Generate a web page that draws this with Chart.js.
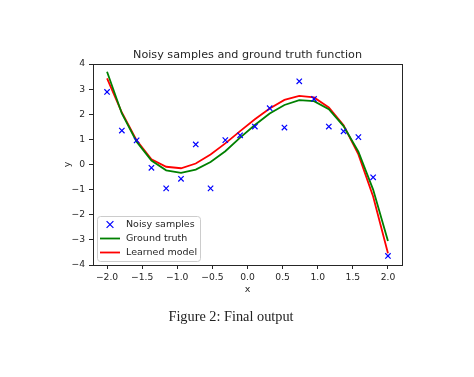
<!DOCTYPE html>
<html>
<head>
<meta charset="utf-8">
<script src="https://cdn.jsdelivr.net/npm/chart.js@4.4.1/dist/chart.umd.min.js"></script>
<style>
  html, body { margin: 0; padding: 0; background: #fff; }
  #wrap { position: relative; width: 474px; height: 377px; }
  #caption {
    position: absolute; left: -6px; top: 308px; width: 474px;
    text-align: center; color: #222;
    font-family: "Liberation Serif", "DejaVu Serif", serif; font-size: 14.3px;
  }
</style>
</head>
<body>
<div id="wrap">
  <canvas id="chart" width="474" height="377"></canvas>
  <div id="caption">Figure 2: Final output</div>
</div>
<script>
// Daten
var xValues = [-2.0, -1.789, -1.579, -1.368, -1.158, -0.947, -0.737, -0.526, -0.316, -0.105,
               0.105, 0.316, 0.526, 0.737, 0.947, 1.158, 1.368, 1.579, 1.789, 2.0];
var noisySamples = [2.89, 1.35, 0.96, -0.13, -0.95, -0.57, 0.80, -0.95, 0.97, 1.16,
                    1.51, 2.24, 1.47, 3.31, 2.61, 1.51, 1.32, 1.09, -0.51, -3.64];
var groundTruth = [3.69, 2.03, 0.91, 0.16, -0.23, -0.33, -0.20, 0.10, 0.53, 1.07,
                   1.57, 2.03, 2.37, 2.56, 2.52, 2.20, 1.53, 0.51, -1.00, -3.04];
var learnedModel = [3.43, 2.07, 0.96, 0.21, -0.09, -0.15, 0.04, 0.40, 0.84, 1.33,
                    1.80, 2.23, 2.57, 2.73, 2.67, 2.27, 1.56, 0.40, -1.27, -3.53];
var xTicks = [-2.0, -1.5, -1.0, -0.5, 0.0, 0.5, 1.0, 1.5, 2.0];
var yTicks = [-4, -3, -2, -1, 0, 1, 2, 3, 4];
var chartTitle = 'Noisy samples and ground truth function';

function toPoints(ys) {
    return xValues.map(function (x, i) { return { x: x, y: ys[i] }; });
}

function fmt(v, digits) {
    var s = Math.abs(v).toFixed(digits);
    return v < 0 ? '\u2212' + s : s;
}

var FONT = 'DejaVu Sans';
var INK = '#262626';

// Titel, Rahmen um die Zeichenfläche + Legende im Diagramm
var frameAndLegend = {
    id: 'frameAndLegend',
    afterDraw: function (chart) {
        var ctx = chart.ctx;
        var a = chart.chartArea;
        ctx.save();
        ctx.strokeStyle = INK;
        ctx.lineWidth = 1;
        ctx.strokeRect(Math.round(a.left) + 0.5, Math.round(a.top) + 0.5,
                       Math.round(a.right - a.left), Math.round(a.bottom - a.top));

        // Titel über der Zeichenfläche zentriert
        ctx.fillStyle = INK;
        ctx.font = '11.2px "' + FONT + '"';
        ctx.textAlign = 'center';
        ctx.textBaseline = 'middle';
        ctx.fillText(chartTitle, (a.left + a.right) / 2, a.top - 9);

        // Legende
        var bx = a.left + 4, by = a.bottom - 49, bw = 103, bh = 45;
        ctx.fillStyle = 'rgba(255,255,255,0.8)';
        ctx.strokeStyle = '#cccccc';
        ctx.beginPath();
        ctx.roundRect(bx + 0.5, by + 0.5, bw, bh, 3);
        ctx.fill();
        ctx.stroke();

        ctx.font = '9.5px "' + FONT + '"';
        ctx.textAlign = 'left';
        chart.data.datasets.forEach(function (ds, i) {
            var cy = by + 8.5 + i * 14;
            if (ds.showLine === false) {
                var cx = bx + 13, r = 3.4;
                ctx.strokeStyle = ds.borderColor;
                ctx.lineWidth = 1.2;
                ctx.beginPath();
                ctx.moveTo(cx - r, cy - r); ctx.lineTo(cx + r, cy + r);
                ctx.moveTo(cx - r, cy + r); ctx.lineTo(cx + r, cy - r);
                ctx.stroke();
            } else {
                ctx.strokeStyle = ds.borderColor;
                ctx.lineWidth = ds.borderWidth;
                ctx.beginPath();
                ctx.moveTo(bx + 3, cy); ctx.lineTo(bx + 23, cy);
                ctx.stroke();
            }
            ctx.fillStyle = INK;
            ctx.fillText(ds.label, bx + 29, cy);
        });
        ctx.restore();
    }
};

var ctx = document.getElementById('chart').getContext('2d');
new Chart(ctx, {
    type: 'scatter',
    data: {
        datasets: [
            {
                label: 'Noisy samples',
                data: toPoints(noisySamples),
                showLine: false,
                pointStyle: 'crossRot',
                pointRadius: 3.8,
                pointHoverRadius: 3.8,
                borderColor: '#0000ff',
                backgroundColor: '#0000ff',
                borderWidth: 1.2
            },
            {
                label: 'Ground truth',
                data: toPoints(groundTruth),
                showLine: true,
                pointRadius: 0,
                borderColor: '#008000',
                borderWidth: 1.8,
                tension: 0
            },
            {
                label: 'Learned model',
                data: toPoints(learnedModel),
                showLine: true,
                pointRadius: 0,
                borderColor: '#ff0000',
                borderWidth: 1.8,
                tension: 0
            }
        ]
    },
    options: {
        responsive: false,
        animation: false,
        layout: { padding: { top: 64, left: 62, right: 72, bottom: 82 } },
        plugins: {
            legend: { display: false },
            tooltip: { enabled: false },
            title: { display: false }
        },
        scales: {
            x: {
                type: 'linear',
                min: -2.2,
                max: 2.2,
                afterBuildTicks: function (s) { s.ticks = xTicks.map(function (v) { return { value: v }; }); },
                afterFit: function (s) { s.height = 30; },
                grid: { drawOnChartArea: false, drawTicks: true, tickLength: 4, color: INK },
                border: { display: false },
                ticks: {
                    color: INK, padding: 3, maxRotation: 0,
                    font: { family: FONT, size: 9.2 },
                    callback: function (v) { return fmt(v, 1); }
                },
                title: { display: true, text: 'x', color: INK, padding: 0, font: { family: FONT, size: 9.5 } }
            },
            y: {
                type: 'linear',
                min: -4,
                max: 4,
                afterBuildTicks: function (s) { s.ticks = yTicks.map(function (v) { return { value: v }; }); },
                afterFit: function (s) { s.width = 31; },
                grid: { drawOnChartArea: false, drawTicks: true, tickLength: 4, color: INK },
                border: { display: false },
                ticks: {
                    color: INK, padding: 4,
                    font: { family: FONT, size: 9.2 },
                    callback: function (v) { return fmt(v, 0); }
                },
                title: { display: true, text: 'y', color: INK, padding: 0, font: { family: FONT, size: 9.5 } }
            }
        }
    },
    plugins: [frameAndLegend]
});
</script>
</body>
</html>
